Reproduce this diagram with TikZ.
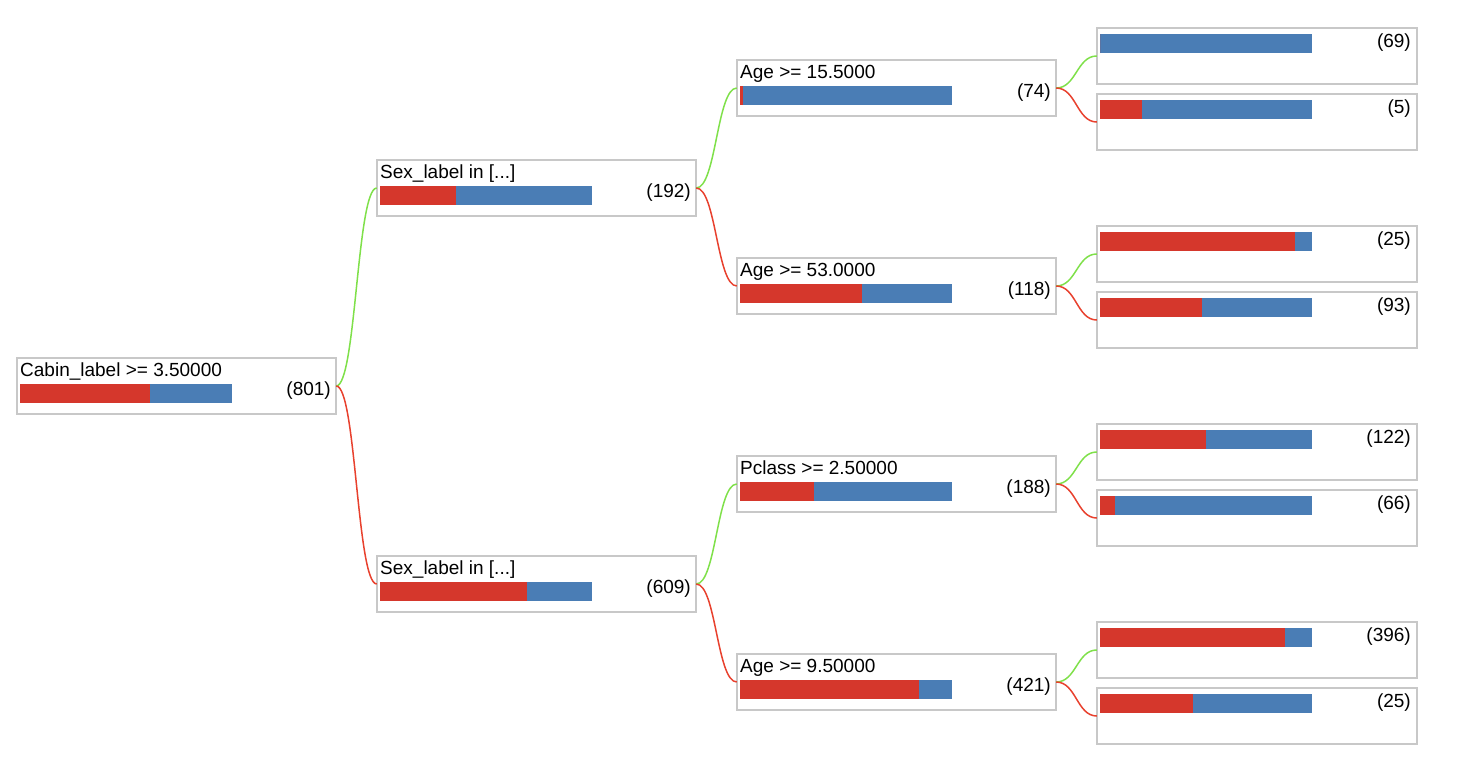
\documentclass[tikz,border=0pt]{standalone}
\usepackage{fontspec}
\setmainfont{Liberation Sans}
\usetikzlibrary{calc}
\definecolor{barred}{HTML}{D5372C}
\definecolor{barblue}{HTML}{4A7DB5}
\definecolor{lgreen}{HTML}{7FE04A}
\definecolor{lred}{HTML}{E8412E}
\definecolor{boxgray}{HTML}{C8C8C8}
\tikzset{
  tbox/.style={draw=boxgray,line width=1.5pt,inner sep=0pt},
  ttext/.style={anchor=base west,inner sep=0pt,font=\fontsize{19}{22}\selectfont},
  tcount/.style={anchor=base east,inner sep=0pt,font=\fontsize{19}{22}\selectfont},
  yes/.style={draw=lgreen,line width=1.5pt},
  no/.style={draw=lred,line width=1.5pt}
}
% name, x1, y1, x2, y2
\newcommand\treebox[5]{%
  \path[tbox] ({(#2)*1pt},{-(#3)*1pt}) rectangle ({(#4)*1pt},{-(#5)*1pt});
  \node[inner sep=0pt,minimum width={(#4-(#2))*1pt},minimum height={(#5-(#3))*1pt}] (#1) at ({(#2+#4)/2*1pt},{-(#3+#5)/2*1pt}) {};
}
\newcommand\splitbox[6]{% name x1 y1 title redend count
  \treebox{#1}{#2}{#3}{#2+319}{#3+56}
  \node[ttext] (#1t) at ({(#2+3)*1pt},{-(#3+18)*1pt}) {#4};
  \fill[barblue] ({(#2+3)*1pt},{-(#3+26)*1pt}) rectangle ({(#2+215)*1pt},{-(#3+45)*1pt});
  \fill[barred] ({(#2+3)*1pt},{-(#3+26)*1pt}) rectangle ({#5*1pt},{-(#3+45)*1pt});
  \node[tcount] (#1c) at ({(#2+314)*1pt},{-(#3+37)*1pt}) {(#6)};
}
\newcommand\leafbox[4]{% name y1 redend count
  \treebox{#1}{1097}{#2}{1417}{#2+56}
  \fill[barblue] (1100pt,{-(#2+6)*1pt}) rectangle (1312pt,{-(#2+25)*1pt});
  \fill[barred] (1100pt,{-(#2+6)*1pt}) rectangle ({#3*1pt},{-(#2+25)*1pt});
  \node[tcount] (#1c) at (1411pt,{-(#2+19)*1pt}) {(#4)};
}
\newcommand\conn[3]{\draw[#3] (#1.east) .. controls ($(#1.east)+(20pt,0)$) and ($(#2.west)-(20pt,0)$) .. (#2.west);}
\begin{document}
\begin{tikzpicture}
\useasboundingbox (0,0) rectangle (1458pt,-764pt);
\splitbox{r}{17}{358}{Cabin\_label >= 3.50000}{150}{801}
\splitbox{a}{377}{160}{Sex\_label in [...]}{456}{192}
\splitbox{b}{377}{556}{Sex\_label in [...]}{527}{609}
\splitbox{aa}{737}{60}{Age >= 15.5000}{743}{74}
\splitbox{ab}{737}{258}{Age >= 53.0000}{862}{118}
\splitbox{ba}{737}{456}{Pclass >= 2.50000}{814}{188}
\splitbox{bb}{737}{654}{Age >= 9.50000}{919}{421}
\leafbox{l1}{28}{1100}{69}
\leafbox{l2}{94}{1142}{5}
\leafbox{l3}{226}{1295}{25}
\leafbox{l4}{292}{1202}{93}
\leafbox{l5}{424}{1206}{122}
\leafbox{l6}{490}{1115}{66}
\leafbox{l7}{622}{1285}{396}
\leafbox{l8}{688}{1193}{25}
\conn{r}{a}{yes}\conn{r}{b}{no}
\conn{a}{aa}{yes}\conn{a}{ab}{no}
\conn{b}{ba}{yes}\conn{b}{bb}{no}
\conn{aa}{l1}{yes}\conn{aa}{l2}{no}
\conn{ab}{l3}{yes}\conn{ab}{l4}{no}
\conn{ba}{l5}{yes}\conn{ba}{l6}{no}
\conn{bb}{l7}{yes}\conn{bb}{l8}{no}
\end{tikzpicture}
\end{document}
